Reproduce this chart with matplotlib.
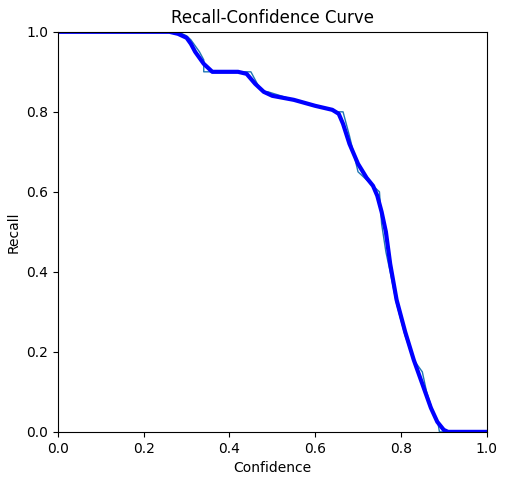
import matplotlib
matplotlib.use('Agg')
import matplotlib.pyplot as plt

# raw recall curve (thin)
conf_raw = [0.0, 0.28, 0.30, 0.31, 0.33, 0.34, 0.34, 0.44, 0.45, 0.46, 0.47, 0.48, 0.49,
            0.55, 0.60, 0.65, 0.665, 0.68, 0.70, 0.72, 0.73, 0.75, 0.755, 0.765, 0.775,
            0.79, 0.81, 0.83, 0.85, 0.86, 0.875, 0.885, 0.89, 0.90, 1.0]
recall_raw = [1.0, 1.0, 0.99, 0.98, 0.95, 0.93, 0.90, 0.90, 0.90, 0.88, 0.86, 0.85, 0.85,
              0.83, 0.815, 0.80, 0.80, 0.74, 0.65, 0.63, 0.62, 0.60, 0.52, 0.45, 0.40,
              0.32, 0.24, 0.18, 0.15, 0.10, 0.05, 0.03, 0.0, 0.0, 0.0]

# smoothed curve (thick)
conf_s = [0.0, 0.26, 0.28, 0.30, 0.31, 0.32, 0.34, 0.36, 0.42, 0.44, 0.46, 0.48, 0.50,
          0.55, 0.60, 0.64, 0.655, 0.665, 0.68, 0.70, 0.72, 0.735, 0.745, 0.755, 0.765,
          0.775, 0.79, 0.81, 0.83, 0.85, 0.87, 0.885, 0.90, 0.91, 1.0]
recall_s = [1.0, 1.0, 0.995, 0.985, 0.97, 0.95, 0.92, 0.90, 0.90, 0.895, 0.87, 0.85, 0.84,
            0.83, 0.815, 0.805, 0.795, 0.77, 0.72, 0.67, 0.635, 0.615, 0.59, 0.55, 0.50,
            0.42, 0.33, 0.25, 0.18, 0.12, 0.06, 0.025, 0.005, 0.0, 0.0]

fig = plt.figure(figsize=(5.09, 4.82), dpi=100)
ax = fig.add_axes([0.114, 0.104, 0.842, 0.83])
ax.plot(conf_raw, recall_raw, linewidth=1, color='tab:blue')
ax.plot(conf_s, recall_s, linewidth=3, color='blue')
ax.set_xlim(0, 1)
ax.set_ylim(0, 1)
ax.set_xlabel('Confidence')
ax.set_ylabel('Recall')
ax.set_title('Recall-Confidence Curve')
fig.savefig('out.png', dpi=100)
